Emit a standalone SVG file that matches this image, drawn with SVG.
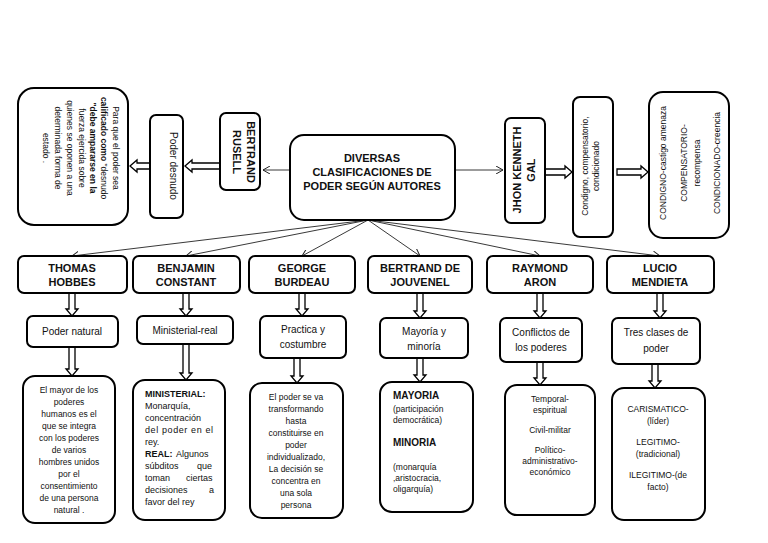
<svg xmlns="http://www.w3.org/2000/svg" width="768" height="543" viewBox="0 0 768 543">
<style>
.b{fill:#fff;stroke:#000;stroke-width:2}
.a{fill:#fff;stroke:#000;stroke-width:1.3}
text{font-family:"Liberation Sans",Arial,sans-serif;fill:#111}
.h{font-size:11px;font-weight:bold;text-anchor:middle}
.m{font-size:10px;text-anchor:middle}
.s{font-size:8.5px;text-anchor:middle}
.l{fill:none;stroke:#222;stroke-width:0.9}
.j{white-space:pre}
</style>
<defs><marker id="o" markerWidth="8" markerHeight="8" refX="7" refY="4" orient="auto" markerUnits="userSpaceOnUse"><path d="M0,0 L7,4 L0,8" fill="none" stroke="#222" stroke-width="1"/></marker></defs>
<rect width="768" height="543" fill="#fff"/>
<g id="connectors">
<line class="l" x1="290" y1="170" x2="263" y2="170" marker-end="url(#o)"/>
<line class="l" x1="455" y1="170" x2="503" y2="170" marker-end="url(#o)"/>
<line class="l" x1="368" y1="220" x2="72" y2="256" marker-end="url(#o)"/>
<line class="l" x1="368" y1="220" x2="186" y2="256" marker-end="url(#o)"/>
<line class="l" x1="368" y1="220" x2="302" y2="256" marker-end="url(#o)"/>
<line class="l" x1="368" y1="220" x2="420" y2="256" marker-end="url(#o)"/>
<line class="l" x1="368" y1="220" x2="540" y2="256" marker-end="url(#o)"/>
<line class="l" x1="368" y1="220" x2="660" y2="256" marker-end="url(#o)"/>
<polygon class="a" points="220,163 192,163 192,160 185,166 192,172 192,169 220,169"/>
<polygon class="a" points="150,163 137,163 137,160 130,166 137,172 137,169 150,169"/>
<polygon class="a" points="545,169 565,169 565,166 572,172 565,178 565,175 545,175"/>
<polygon class="a" points="617,169 641,169 641,166 648,172 641,178 641,175 617,175"/>
<polygon class="a" points="69,293 75,293 75,309 78,309 72,316 66,309 69,309"/>
<polygon class="a" points="183,293 189,293 189,309 192,309 186,316 180,309 183,309"/>
<polygon class="a" points="299,293 305,293 305,309 308,309 302,316 296,309 299,309"/>
<polygon class="a" points="417,293 423,293 423,311 426,311 420,318 414,311 417,311"/>
<polygon class="a" points="537,293 543,293 543,311 546,311 540,318 534,311 537,311"/>
<polygon class="a" points="657,293 663,293 663,311 666,311 660,318 654,311 657,311"/>
<polygon class="a" points="69,347 75,347 75,369 78,369 72,376 66,369 69,369"/>
<polygon class="a" points="183,344 189,344 189,373 192,373 186,380 180,373 183,373"/>
<polygon class="a" points="294,358 300,358 300,376 303,376 297,383 291,376 294,376"/>
<polygon class="a" points="417,358 423,358 423,375 426,375 420,382 414,375 417,375"/>
<polygon class="a" points="537,362 543,362 543,378 546,378 540,385 534,378 537,378"/>
<polygon class="a" points="652,364 658,364 658,381 661,381 655,388 649,381 652,381"/>
</g>
<g id="center"><rect class="b" x="290" y="135" width="165" height="85" rx="14"/>
<text class="h" x="372" y="162">DIVERSAS</text><text class="h" x="372" y="176">CLASIFICACIONES DE</text><text class="h" x="372" y="190">PODER SEGÚN AUTORES</text></g>
<g id="rusell"><rect class="b" x="220" y="113" width="40" height="77" rx="6"/>
<text class="h" transform="rotate(90 247 152)" x="247" y="152">BERTRAND</text><text class="h" transform="rotate(90 233 152)" x="233" y="152">RUSELL</text></g>
<g id="desnudo"><rect class="b" x="150" y="115" width="33" height="103" rx="6"/>
<text class="m" transform="rotate(90 170 166)" x="170" y="166">Poder desnudo</text></g>
<g id="desnudo-def"><rect class="b" x="18" y="88" width="110" height="137" rx="16"/>
<text class="s" transform="rotate(90 113 148)" x="113" y="148">Para que el poder sea</text>
<text class="s" transform="rotate(90 101 148)" x="101" y="148"><tspan font-weight="bold">calificado como</tspan> "desnudo</text>
<text class="s" font-weight="bold" transform="rotate(90 90 148)" x="90" y="148">"debe ampararse en la</text>
<text class="s" transform="rotate(90 79 148)" x="79" y="148">fuerza ejercida sobre</text>
<text class="s" transform="rotate(90 67 148)" x="67" y="148">quienes se oponen a una</text>
<text class="s" transform="rotate(90 55 148)" x="55" y="148">determinada forma de</text>
<text class="s" transform="rotate(90 43 148)" x="43" y="148">estado .</text></g>
<g id="gal"><rect class="b" x="505" y="118" width="40" height="105" rx="6"/>
<text class="h" font-size="10" transform="rotate(-90 521 170)" x="521" y="170">JHON KENNETH</text><text class="h" font-size="10" transform="rotate(-90 535 170)" x="535" y="170">GAL</text></g>
<g id="condigno1"><rect class="b" x="573" y="97" width="40" height="140" rx="7"/>
<text class="s" transform="rotate(-90 588 166)" x="588" y="166">Condigno, compensatorio,</text><text class="s" transform="rotate(-90 599 166)" x="599" y="166">condicionado</text></g>
<g id="condigno2"><rect class="b" x="649" y="92" width="80" height="146" rx="14"/>
<text class="s" font-size="9" transform="rotate(-90 666 163)" x="666" y="163">CONDIGNO-castigo amenaza</text>
<text class="s" font-size="9" transform="rotate(-90 687 163)" x="687" y="163">COMPENSATORIO-</text>
<text class="s" transform="rotate(-90 700 163)" x="700" y="163">recompensa</text>
<text class="s" font-size="9" transform="rotate(-90 720 163)" x="720" y="163">CONDICIONADO-creencia</text></g>
<g id="hobbes"><rect class="b" x="18" y="256" width="109" height="37" rx="6"/><text class="h" x="72" y="272">THOMAS</text><text class="h" x="72" y="286">HOBBES</text></g>
<g id="constant"><rect class="b" x="133" y="256" width="107" height="37" rx="6"/><text class="h" x="186" y="272">BENJAMIN</text><text class="h" x="186" y="286">CONSTANT</text></g>
<g id="burdeau"><rect class="b" x="249" y="256" width="106" height="37" rx="6"/><text class="h" x="302" y="272">GEORGE</text><text class="h" x="302" y="286">BURDEAU</text></g>
<g id="jouvenel"><rect class="b" x="368" y="256" width="104" height="37" rx="6"/><text class="h" x="420" y="272">BERTRAND DE</text><text class="h" x="420" y="286">JOUVENEL</text></g>
<g id="aron"><rect class="b" x="487" y="256" width="106" height="37" rx="6"/><text class="h" x="540" y="272">RAYMOND</text><text class="h" x="540" y="286">ARON</text></g>
<g id="mendieta"><rect class="b" x="607" y="256" width="107" height="37" rx="6"/><text class="h" x="660" y="272">LUCIO</text><text class="h" x="660" y="286">MENDIETA</text></g>
<g id="n1"><rect class="b" x="27" y="316" width="91" height="31" rx="6"/><text class="m" x="72" y="335">Poder natural</text></g>
<g id="n2"><rect class="b" x="137" y="316" width="96" height="28" rx="6"/><text class="m" x="185" y="334">Ministerial-real</text></g>
<g id="n3"><rect class="b" x="260" y="316" width="86" height="42" rx="6"/><text class="m" x="303" y="333">Practica y</text><text class="m" x="303" y="348">costumbre</text></g>
<g id="n4"><rect class="b" x="380" y="318" width="88" height="40" rx="6"/><text class="m" x="424" y="335">Mayoría y</text><text class="m" x="424" y="350">minoría</text></g>
<g id="n5"><rect class="b" x="500" y="318" width="82" height="44" rx="6"/><text class="m" x="541" y="336">Conflictos de</text><text class="m" x="541" y="351">los poderes</text></g>
<g id="n6"><rect class="b" x="612" y="318" width="88" height="46" rx="6"/><text class="m" x="656" y="336">Tres clases de</text><text class="m" x="656" y="352">poder</text></g>
<g id="d1"><rect class="b" x="23" y="376" width="92" height="147" rx="12"/>
<text class="s" font-size="9" x="69" y="393"><tspan x="69">El mayor de los</tspan><tspan x="69" dy="12">poderes</tspan><tspan x="69" dy="12">humanos es el</tspan><tspan x="69" dy="12">que se integra</tspan><tspan x="69" dy="12">con los poderes</tspan><tspan x="69" dy="12">de varios</tspan><tspan x="69" dy="12">hombres unidos</tspan><tspan x="69" dy="12">por el</tspan><tspan x="69" dy="12">consentimiento</tspan><tspan x="69" dy="12">de una persona</tspan><tspan x="69" dy="12">natural .</tspan></text></g>
<g id="d2"><rect class="b" x="133" y="380" width="92" height="140" rx="12"/>
<text font-size="9" x="145" y="397"><tspan font-weight="bold">MINISTERIAL:</tspan><tspan x="145" dy="12">Monarquía,</tspan><tspan x="145" dy="12">concentración</tspan><tspan x="145" dy="12" textLength="68" lengthAdjust="spacing">del poder en el</tspan><tspan x="145" dy="12">rey.</tspan><tspan x="145" dy="12" font-weight="bold">REAL:</tspan><tspan x="176">Algunos</tspan><tspan x="145" dy="12">súbditos</tspan><tspan x="197">que</tspan><tspan x="145" dy="12">toman</tspan><tspan x="186">ciertas</tspan><tspan x="145" dy="12">decisiones</tspan><tspan x="209">a</tspan><tspan x="145" dy="12">favor del  rey</tspan></text></g>
<g id="d3"><rect class="b" x="250" y="383" width="93" height="135" rx="12"/>
<text class="s" font-size="9" x="296" y="400"><tspan x="296">El poder se va</tspan><tspan x="296" dy="12">transformando</tspan><tspan x="296" dy="12">hasta</tspan><tspan x="296" dy="12">constituirse en</tspan><tspan x="296" dy="12">poder</tspan><tspan x="296" dy="12">individualizado,</tspan><tspan x="296" dy="12">La decisión se</tspan><tspan x="296" dy="12">concentra en</tspan><tspan x="296" dy="12">una sola</tspan><tspan x="296" dy="12">persona</tspan></text></g>
<g id="d4"><rect class="b" x="380" y="382" width="93" height="130" rx="12"/>
<text font-size="10" font-weight="bold" x="393" y="399">MAYORIA</text>
<text font-size="8.5" x="393" y="412"><tspan>(participación</tspan><tspan x="393" dy="11">democrática)</tspan></text>
<text font-size="10" font-weight="bold" x="393" y="446">MINORIA</text>
<text font-size="8.5" x="393" y="470"><tspan>(monarquía</tspan><tspan x="393" dy="11">,aristocracia,</tspan><tspan x="393" dy="11">oligarquía)</tspan></text></g>
<g id="d5"><rect class="b" x="505" y="385" width="90" height="130" rx="12"/>
<text class="s" x="550" y="402"><tspan x="550">Temporal-</tspan><tspan x="550" dy="11">espiritual</tspan><tspan x="550" dy="20">Civil-militar</tspan><tspan x="550" dy="20">Político-</tspan><tspan x="550" dy="11">administrativo-</tspan><tspan x="550" dy="11">económico</tspan></text></g>
<g id="d6"><rect class="b" x="612" y="388" width="93" height="132" rx="12"/>
<text class="s" x="658" y="412"><tspan x="658">CARISMATICO-</tspan><tspan x="658" dy="12">(líder)</tspan><tspan x="658" dy="21">LEGITIMO-</tspan><tspan x="658" dy="12">(tradicional)</tspan><tspan x="658" dy="21">ILEGITIMO-(de</tspan><tspan x="658" dy="12">facto)</tspan></text></g>
</svg>
